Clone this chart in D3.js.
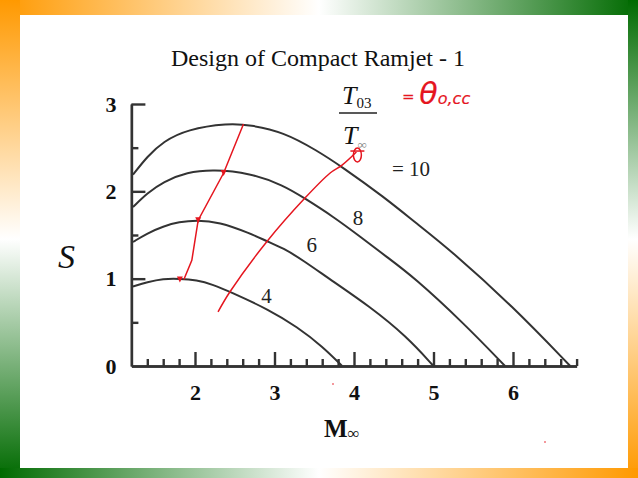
<!DOCTYPE html>
<html>
<head>
<meta charset="utf-8">
<script src="https://cdn.jsdelivr.net/npm/d3@7"></script>
<style>
  body { margin: 0; background: #fff; }
  svg { display: block; }
</style>
</head>
<body>
<script>
// values (M_inf, S)
const curve4  = [[1.22,0.91],[1.4,0.96],[1.6,1.0],[1.8,1.0],[2.02,0.985],[2.23,0.93],[2.44,0.85],[2.94,0.64],[3.28,0.45],[3.61,0.22],[3.85,0]];
const curve6  = [[1.22,1.42],[1.4,1.52],[1.6,1.60],[1.8,1.65],[2.02,1.67],[2.3,1.65],[2.69,1.52],[2.9,1.43],[3.11,1.35],[3.36,1.21],[3.7,0.99],[4.2,0.68],[4.66,0.34],[5.0,0]];
const curve8  = [[1.22,1.82],[1.4,1.98],[1.6,2.11],[1.9,2.22],[2.23,2.25],[2.69,2.21],[3.11,2.07],[3.38,1.92],[3.74,1.71],[4.08,1.48],[4.41,1.25],[4.75,1.02],[5.38,0.49],[5.9,0]];
const curve10 = [[1.22,2.19],[1.4,2.40],[1.6,2.57],[1.9,2.71],[2.42,2.78],[2.69,2.76],[3.11,2.68],[3.53,2.47],[3.85,2.28],[4.37,1.94],[4.79,1.63],[5.21,1.33],[6.0,0.68],[6.72,0]];
const curveLabels = [["4",2.9,0.72],["6",3.47,1.3],["8",4.05,1.62]];

const xMajor = [2,3,4,5,6];
const xMinor = [1.4,1.6,1.8,2.2,2.4,2.6,2.8,3.2,3.4,3.6,3.8,4.2,4.4,4.6,4.8,5.2,5.4,5.6,5.8,6.2,6.4,6.6,6.8];
const yMajor = [0,1,2,3];
const yMinor = [0.5,1.5,2.5];

// red hand annotations
const redPath1 = [[2.61,2.77],[2.36,2.21],[2.04,1.67],[1.96,1.21],[1.86,0.99]];
const redPath2 = [[2.29,0.62],[2.44,0.85],[2.90,1.42],[3.38,1.92],[3.70,2.21],[3.85,2.30],[4.03,2.45]];
const redMarks = [[2.36,2.21],[2.04,1.67],[1.81,0.99]];

const W = 638, H = 478;
const svg = d3.select("body").append("svg").attr("width", W).attr("height", H);

// slide frame
const defs = svg.append("defs");
function grad(id, x2, y2, c0, c1) {
  const g = defs.append("linearGradient").attr("id", id)
    .attr("x1", 0).attr("y1", 0).attr("x2", x2).attr("y2", y2);
  g.append("stop").attr("offset", "0%").attr("stop-color", c0);
  g.append("stop").attr("offset", "50%").attr("stop-color", "#ffffff");
  g.append("stop").attr("offset", "100%").attr("stop-color", c1);
}
const orange = "#ff9900", green = "#006a00";
grad("gTop", 1, 0, orange, green);
grad("gLeft", 0, 1, orange, green);
grad("gRight", 0, 1, green, orange);
grad("gBottom", 1, 0, green, orange);
svg.append("rect").attr("width", W).attr("height", H).attr("fill", "#fff");
svg.append("rect").attr("x", 0).attr("y", 0).attr("width", W).attr("height", 15).attr("fill", "url(#gTop)");
svg.append("rect").attr("x", 0).attr("y", 0).attr("width", 20).attr("height", H).attr("fill", "url(#gLeft)");
svg.append("rect").attr("x", 628).attr("y", 0).attr("width", 10).attr("height", H).attr("fill", "url(#gRight)");
svg.append("rect").attr("x", 0).attr("y", 468).attr("width", W).attr("height", 10).attr("fill", "url(#gBottom)");

const serif = "Liberation Serif";
svg.append("text").attr("x", 318).attr("y", 66).attr("text-anchor", "middle")
  .style("font-family", serif).style("font-size", "24px").attr("fill", "#111")
  .text("Design of Compact Ramjet - 1");

const x = d3.scaleLinear().domain([1.2, 6.8]).range([131.4, 576.6]);
const y = d3.scaleLinear().domain([0, 3]).range([366, 104]);
const ink = "#333";

// axes: minor and major ticks in separate groups
function styleAxis(g) {
  g.selectAll("path,line").attr("stroke", ink).attr("stroke-width", 2.4);
  g.selectAll("text").style("font-family", serif).style("font-weight", "bold")
    .style("font-size", "22px").attr("fill", "#111");
}
const gxMinor = svg.append("g").attr("transform", "translate(0,366)")
  .call(d3.axisBottom(x).tickValues(xMinor).tickSizeInner(-7).tickSizeOuter(0).tickFormat(""));
const gxMajor = svg.append("g").attr("transform", "translate(0,366)")
  .call(d3.axisBottom(x).tickValues(xMajor).tickSizeInner(-14).tickSizeOuter(0).tickPadding(18).tickFormat(d3.format("d")));
styleAxis(gxMinor); styleAxis(gxMajor);

const gyMinor = svg.append("g").attr("transform", "translate(131.4,0)")
  .call(d3.axisLeft(y).tickValues(yMinor).tickSizeInner(-7).tickSizeOuter(0).tickFormat(""));
const gyMajor = svg.append("g").attr("transform", "translate(131.4,0)")
  .call(d3.axisLeft(y).tickValues(yMajor).tickSizeInner(-14).tickSizeOuter(0).tickPadding(15).tickFormat(d3.format("d")));
gyMajor.selectAll(".tick").filter(d => d === 0).select("line").remove();
styleAxis(gyMinor); styleAxis(gyMajor);

// curves
const line = d3.line().x(d => x(d[0])).y(d => y(d[1])).curve(d3.curveBasis);
svg.selectAll("path.curve").data([curve4, curve6, curve8, curve10]).enter()
  .append("path").attr("class", "curve").attr("d", line)
  .attr("fill", "none").attr("stroke", ink).attr("stroke-width", 2);

svg.selectAll("text.clab").data(curveLabels).enter().append("text").attr("class", "clab")
  .attr("x", d => x(d[1])).attr("y", d => y(d[2]))
  .attr("text-anchor", "middle")
  .style("font-family", serif).style("font-size", "21px").attr("fill", "#222")
  .text(d => d[0]);

// T03 / T_inf = 10
const t1 = svg.append("text").attr("x", 342).attr("y", 104).style("font-family", serif).attr("fill", "#111");
t1.append("tspan").style("font-style", "italic").style("font-size", "26px").text("T");
t1.append("tspan").attr("dy", 4).style("font-size", "15px").text("03");
svg.append("line").attr("x1", 339).attr("x2", 377).attr("y1", 113).attr("y2", 113)
  .attr("stroke", "#222").attr("stroke-width", 1.5);
const t2 = svg.append("text").attr("x", 343).attr("y", 144).style("font-family", serif).attr("fill", "#111");
t2.append("tspan").style("font-style", "italic").style("font-size", "26px").text("T");
t2.append("tspan").attr("dy", 5).style("font-size", "13px").attr("fill", "#888").text("\u221e");
svg.append("text").attr("x", 392).attr("y", 176).style("font-family", serif).style("font-size", "21px")
  .attr("fill", "#222").text("=  10");

// S and M_inf
svg.append("text").attr("x", 58).attr("y", 268).style("font-family", serif).style("font-style", "italic")
  .style("font-size", "34px").attr("fill", "#111").text("S");
const mx = svg.append("text").attr("x", 324).attr("y", 437).style("font-family", serif).attr("fill", "#111");
mx.append("tspan").style("font-weight", "bold").style("font-size", "25px").text("M");
mx.append("tspan").attr("dy", 2).style("font-size", "17px").text("\u221e");

// red ink
const red = "#e5161f";
const rline1 = d3.line().x(d => x(d[0])).y(d => y(d[1]));
const rline2 = d3.line().x(d => x(d[0])).y(d => y(d[1])).curve(d3.curveCatmullRom.alpha(0.5));
svg.append("path").attr("d", rline1(redPath1)).attr("fill", "none").attr("stroke", red).attr("stroke-width", 1.5);
svg.append("path").attr("d", rline2(redPath2)).attr("fill", "none").attr("stroke", red).attr("stroke-width", 1.5);
svg.selectAll("path.rmark").data(redMarks).enter().append("path").attr("class", "rmark")
  .attr("transform", d => `translate(${x(d[0])},${y(d[1])})`)
  .attr("d", "M-3,-3L3,-3L0,3Z").attr("fill", red);
// little loop at the end of the second stroke
const end2 = redPath2[redPath2.length - 1];
svg.append("ellipse").attr("cx", x(end2[0]) + 1).attr("cy", y(end2[1]) + 3).attr("rx", 4).attr("ry", 7)
  .attr("fill", "none").attr("stroke", red).attr("stroke-width", 1.5);
svg.append("line").attr("x1", x(end2[0]) - 6).attr("x2", x(end2[0]) + 8)
  .attr("y1", y(end2[1]) - 1).attr("y2", y(end2[1]) - 1).attr("stroke", red).attr("stroke-width", 1.5);

const hw = svg.append("text").attr("x", 402).attr("y", 104).attr("fill", red)
  .attr("stroke", red).attr("stroke-width", 0.2)
  .style("font-family", "DejaVu Sans").style("font-style", "italic");
hw.append("tspan").style("font-size", "15px").attr("dy", -2).text("= ");
hw.append("tspan").style("font-size", "30px").attr("dy", 2).text("\u03b8");
hw.append("tspan").style("font-size", "16px").attr("dy", 0).text("o,cc");

svg.append("circle").attr("cx", 333).attr("cy", 384).attr("r", 0.8).attr("fill", red);
svg.append("circle").attr("cx", 545).attr("cy", 442).attr("r", 0.8).attr("fill", red);
</script>
</body>
</html>
